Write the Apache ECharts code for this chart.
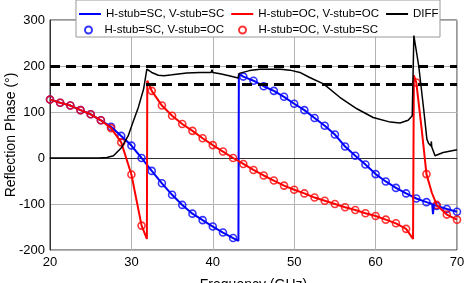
<!DOCTYPE html>
<html>
<head>
<meta charset="utf-8">
<script src="https://cdn.jsdelivr.net/npm/echarts@6/dist/echarts.min.js"></script>
<style>
  html, body { margin: 0; padding: 0; background: #fff; }
  #main { width: 474px; height: 283px; }
</style>
</head>
<body>
<div id="main"></div>
<script>
// marker grid (GHz), every 1.25 GHz
var freqGrid = [20, 21.25, 22.5, 23.75, 25, 26.25, 27.5, 28.75, 30, 31.25,
    32.5, 33.75, 35, 36.25, 37.5, 38.75, 40, 41.25, 42.5, 43.75,
    45, 46.25, 47.5, 48.75, 50, 51.25, 52.5, 53.75, 55, 56.25,
    57.5, 58.75, 60, 61.25, 62.5, 63.75, 65, 66.25, 67.5, 68.75, 70];
// H-stub=SC, V-stub=OC (blue circles)
var scOcPhase = [127, 120, 114, 104, 95, 82, 68, 48, 27, 0,
    -28, -55, -80, -102, -121, -135, -149, -162, -174, 177,
    168, 156, 146, 133, 118, 104, 87, 70, 51, 25,
    5, -14, -35, -51, -65, -77, -88, -96, -104, -111, -117];
// H-stub=OC, V-stub=SC (red circles)
var ocScPhase = [127, 120, 114, 104, 95, 82, 65, 34, -36, -147,
    146, 114, 92, 74, 59, 43, 28, 14, 0, -13,
    -26, -38, -49, -60, -69, -77, -86, -93, -100, -107,
    -113, -120, -126, -134, -142, -154, 164, -35, -102, -123, -134];

// H-stub=SC, V-stub=SC (blue line)
var scScFreq = [20, 21.25, 22.5, 23.75, 25, 26.25, 27.5, 28.75, 30, 31.25,
    32.5, 33.75, 35, 36.25, 37.5, 38.75, 40, 41.25, 42.5, 43.15, 43.2, 43.75,
    45, 46.25, 47.5, 48.75, 50, 51.25, 52.5, 53.75, 55, 56.25,
    57.5, 58.75, 60, 61.25, 62.5, 63.75, 65, 66.25, 66.95, 67.05, 67.15, 67.5, 68.75, 70];
var scScPhase = [127, 120, 114, 104, 95, 82, 68, 48, 27, 0,
    -28, -55, -80, -102, -121, -135, -149, -162, -174, -180, 183, 177,
    168, 156, 146, 133, 118, 104, 87, 70, 51, 25,
    5, -14, -35, -51, -65, -77, -88, -96, -100, -122, -102, -104, -111, -117];

// H-stub=OC, V-stub=OC (red line)
var ocOcFreq = [20, 21.25, 22.5, 23.75, 25, 26.25, 27.5, 28.75, 30, 31.25, 31.9, 31.95,
    32.5, 33.75, 35, 36.25, 37.5, 38.75, 40, 41.25, 42.5, 43.75,
    45, 46.25, 47.5, 48.75, 50, 51.25, 52.5, 53.75, 55, 56.25,
    57.5, 58.75, 60, 61.25, 62.5, 63.75, 64.6, 64.7, 65, 65.66, 66.25, 66.9, 67.5, 68.75, 70];
var ocOcPhase = [127, 120, 114, 104, 95, 82, 65, 34, -36, -147, -176, 168,
    146, 114, 92, 74, 59, 43, 28, 14, 0, -13,
    -26, -38, -49, -60, -69, -77, -86, -93, -100, -107,
    -113, -120, -126, -134, -142, -154, -176, 180, 164, 63, -35, -75, -102, -123, -134];

// DIFF (black line)
var diffFreq = [20, 24, 26, 27, 27.8, 28.8, 29.6, 30.2, 30.85, 31.5, 31.9, 32.0,
    32.5, 33.3, 34, 35, 36.8, 38.4, 39.8, 39.9, 40, 40.9, 42, 43.1, 43.25,
    44.5, 45.8, 48.3, 49.5, 50.7, 51.9, 53.6, 55.6, 57.7, 59.7, 61.8, 63, 64, 64.5,
    64.7, 65.3, 65.9, 66.3, 66.5, 66.8, 66.85, 66.9, 67.3, 68.3, 70];
var diffPhase = [0, 0, 0, 1, 5, 23, 48, 78, 110, 150, 193, 196,
    186, 180, 179, 181, 185, 186, 186, 192, 186, 183, 179, 174, 184,
    190, 193, 193, 191, 186, 175, 161, 132, 107, 88, 78, 76, 82, 92,
    266, 200, 107, 41, 32, 26, 36, 24, 5, 12, 18];

var refLevels = [200, 160];

var lineNames = ['H-stub=SC, V-stub=SC', 'H-stub=OC, V-stub=OC', 'DIFF'];
var markerNames = ['H-stub=SC, V-stub=OC', 'H-stub=OC, V-stub=SC'];

function pairs(xs, ys) {
    return xs.map(function (x, i) { return [x, ys[i]]; });
}

var myChart = echarts.init(document.getElementById('main'));
var font = 'Liberation Sans, Arial, sans-serif';
var legendText = { fontFamily: font, fontSize: 11.5, color: '#000' };
var option = {
    animation: false,
    textStyle: { fontFamily: font },
    grid: {
        left: 50, right: 17, top: 20, bottom: 33,
        outerBoundsMode: 'none', containLabel: false,
        show: true, borderColor: '#333', borderWidth: 1
    },
    graphic: [{
        type: 'rect', z: 3, silent: true,
        shape: { x: 76, y: 0, width: 364, height: 37 },
        style: { fill: '#fff', stroke: '#999', lineWidth: 1 }
    }],
    legend: [{
        left: 75, top: 8, padding: [0, 3],
        itemWidth: 22, itemHeight: 2, itemGap: 6,
        selectedMode: false, textStyle: legendText,
        data: lineNames
    }, {
        left: 81, top: 24, padding: [0, 3],
        itemWidth: 22, itemHeight: 7, itemGap: 14,
        selectedMode: false, textStyle: legendText,
        data: markerNames
    }],
    xAxis: {
        type: 'value', min: 20, max: 70, interval: 10,
        name: 'Frequency (GHz)', nameLocation: 'middle', nameGap: 28,
        nameMoveOverlap: false,
        nameTextStyle: { fontFamily: font, fontSize: 14, color: '#000' },
        axisLine: { lineStyle: { color: '#333' } },
        axisTick: { show: false },
        axisLabel: { fontFamily: font, fontSize: 13, color: '#000', margin: 6 },
        splitLine: { lineStyle: { color: '#b4b4b4' } }
    },
    yAxis: {
        type: 'value', min: -200, max: 300, interval: 100,
        name: 'Reflection Phase (°)', nameLocation: 'middle', nameGap: 32,
        nameMoveOverlap: false,
        nameTextStyle: { fontFamily: font, fontSize: 14, color: '#000' },
        axisLine: { show: true, lineStyle: { color: '#333' } },
        axisTick: { show: false },
        axisLabel: { fontFamily: font, fontSize: 13, color: '#000', margin: 5 },
        splitLine: { lineStyle: { color: '#b4b4b4' } }
    },
    series: [
        {
            name: lineNames[0], type: 'line', symbol: 'none', legendIcon: 'rect',
            color: '#0000ff', lineStyle: { width: 2, color: '#0000ff' },
            data: pairs(scScFreq, scScPhase)
        },
        {
            name: lineNames[1], type: 'line', symbol: 'none', legendIcon: 'rect',
            color: '#ff0000', lineStyle: { width: 2, color: '#ff0000' },
            data: pairs(ocOcFreq, ocOcPhase)
        },
        {
            name: lineNames[2], type: 'line', symbol: 'none', legendIcon: 'rect',
            color: '#000', lineStyle: { width: 1.5, color: '#000' },
            data: pairs(diffFreq, diffPhase),
            markLine: {
                silent: true, symbol: 'none',
                label: { show: false },
                lineStyle: { color: '#000', type: [10, 6], width: 3 },
                data: refLevels.map(function (v) { return { yAxis: v }; })
            }
        },
        {
            name: markerNames[0], type: 'scatter', symbol: 'circle',
            symbolSize: 7, symbolKeepAspect: true,
            itemStyle: { color: 'rgba(255,255,255,0)', borderColor: '#0000ff', borderWidth: 1.6 },
            data: pairs(freqGrid, scOcPhase)
        },
        {
            name: markerNames[1], type: 'scatter', symbol: 'circle',
            symbolSize: 7, symbolKeepAspect: true,
            itemStyle: { color: 'rgba(255,255,255,0)', borderColor: '#ff0000', borderWidth: 1.6 },
            data: pairs(freqGrid, ocScPhase)
        }
    ]
};
myChart.setOption(option);
</script>
</body>
</html>
